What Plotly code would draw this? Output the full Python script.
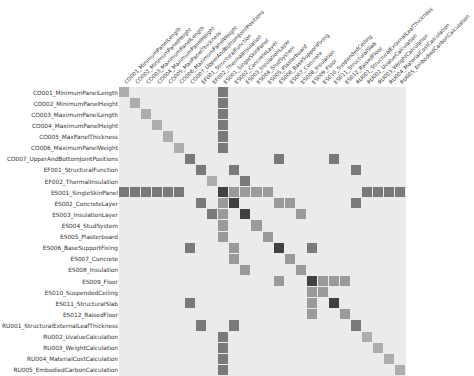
import plotly.graph_objects as go

labels = [
    "CO001_MinimumPanelLength", "CO002_MinimumPanelHeight", "CO003_MaximumPanelLength",
    "CO004_MaximumPanelHeight", "CO005_MaxPanelThickness", "CO006_MaximumPanelWeight",
    "CO007_UpperAndBottomJointPositions", "EF001_StructuralFunction", "EF002_ThermalInsulation",
    "ES001_SingleSkinPanel", "ES002_ConcreteLayer", "ES003_InsulationLayer",
    "ES004_StudSystem", "ES005_Plasterboard", "ES006_BaseSupportFixing",
    "ES007_Concrete", "ES008_Insulation", "ES009_Floor", "ES010_SuspendedCeiling",
    "ES011_StructuralSlab", "ES012_RaisedFloor", "RU001_StructuralExternalLeafThickness",
    "RU002_UvalueCalculation", "RU003_WeightCalculation", "RU004_MaterialCostCalculation",
    "RU005_EmbodiedCarbonCalculation",
]

# sparse matrix entries: row index, column index, strength level (1 light .. 4 very dark)
rows = [0, 0, 1, 1, 2, 2, 3, 3, 4, 4, 5, 5,
        6, 6, 6, 7, 7, 7, 8, 8,
        9, 9, 9, 9, 9, 9, 9, 9, 9, 9, 9, 9, 9, 9, 9,
        10, 10, 10, 10, 10, 10,
        11, 11, 11, 11,
        12, 12, 13, 13,
        14, 14, 14, 14,
        15, 15, 16, 16,
        17, 17, 17, 17, 17,
        18, 18, 19, 19, 19, 20, 20,
        21, 21, 21, 22, 22, 23, 23, 24, 24, 25, 25]
cols = [0, 9, 1, 9, 2, 9, 3, 9, 4, 9, 5, 9,
        6, 14, 19, 7, 10, 21, 8, 11,
        0, 1, 2, 3, 4, 5, 9, 10, 11, 12, 13, 22, 23, 24, 25,
        7, 9, 10, 14, 15, 21,
        8, 9, 11, 16,
        9, 12, 9, 13,
        6, 10, 14, 17,
        10, 15, 11, 16,
        14, 17, 18, 19, 20,
        17, 18, 6, 17, 19, 17, 20,
        7, 10, 21, 9, 22, 9, 23, 9, 24, 9, 25]
levels = [1, 3, 1, 3, 1, 3, 1, 3, 1, 3, 1, 3,
          3, 3, 3, 3, 3, 3, 1, 3,
          3, 3, 3, 3, 3, 3, 4, 2, 2, 2, 2, 3, 3, 3, 3,
          3, 2, 4, 2, 2, 3,
          3, 2, 4, 2,
          2, 2, 2, 2,
          3, 2, 4, 3,
          2, 2, 2, 2,
          2, 4, 2, 2, 2,
          2, 2, 3, 2, 4, 2, 2,
          3, 3, 3, 3, 1, 3, 1, 3, 1, 3, 1]

level_colors = ["#adadad", "#9a9a9a", "#7a7a7a", "#414141"]

n = len(labels)
z = [[None] * n for _ in range(n)]
for r, c, v in zip(rows, cols, levels):
    z[r][c] = v

cs = []
for i, col in enumerate(level_colors):
    cs.append([i / 4, col])
    cs.append([(i + 1) / 4, col])

fig = go.Figure(go.Heatmap(
    z=z, x=labels, y=labels,
    colorscale=cs, zmin=0.5, zmax=4.5, showscale=False,
    xgap=1, ygap=1, hoverongaps=False,
))

tf_y = dict(family="DejaVu Sans", size=5.8, color="#333333")
tf_x = dict(family="DejaVu Sans", size=5.3, color="#333333")
fig.update_layout(
    width=474, height=376,
    margin=dict(l=119, r=68, t=87, b=0),
    paper_bgcolor="white", plot_bgcolor="#ebebeb",
    font=tf_y,
)
fig.update_xaxes(side="top", tickangle=-45, showgrid=False, zeroline=False,
                 ticks="", tickfont=tf_x, showline=False, automargin=False)
fig.update_yaxes(autorange="reversed", showgrid=False, zeroline=False,
                 ticks="", tickfont=tf_y, showline=False, automargin=False)

fig.write_html("out.html")
